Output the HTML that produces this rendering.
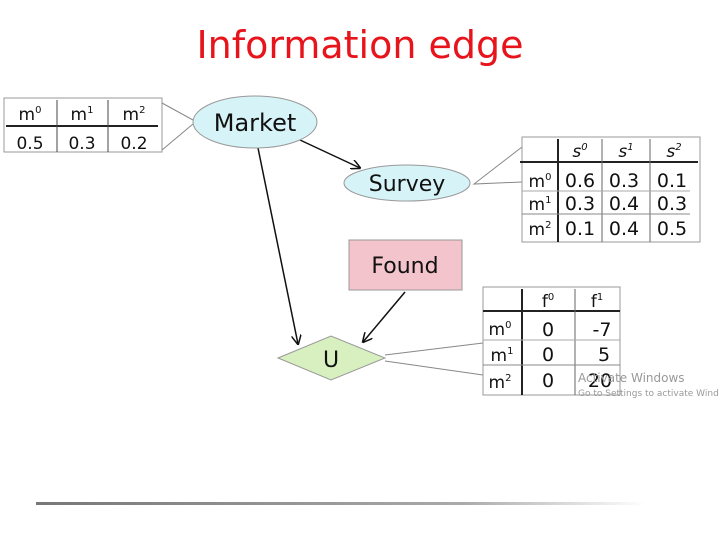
<!DOCTYPE html>
<html><head><style>
body{margin:0;background:#fff;}
svg{display:block;font-family:"DejaVu Sans","Liberation Sans",sans-serif;}
</style></head><body>
<svg width="720" height="540" viewBox="0 0 720 540" xmlns="http://www.w3.org/2000/svg">
<defs>
<linearGradient id="g" x1="0" x2="1"><stop offset="0" stop-color="#777"/><stop offset="0.7" stop-color="#aaa"/><stop offset="1" stop-color="#fff"/></linearGradient>
<marker id="a" markerWidth="10" markerHeight="10" refX="9" refY="5" orient="auto" markerUnits="userSpaceOnUse"><path d="M0,0 L10,5 L0,10" fill="none" stroke="#111" stroke-width="1.5"/></marker>
</defs>
<text x="360" y="58" text-anchor="middle" font-size="38" fill="#e8141c" font-family="'DejaVu Sans',sans-serif">Information edge</text>

<!-- table 1 -->
<rect x="4" y="98" width="158" height="54" fill="#fff" stroke="#999"/>
<path d="M162,103 L193,120 M162,150 L193,124" stroke="#888" fill="none"/>
<line x1="6" y1="126" x2="158" y2="126" stroke="#222" stroke-width="2"/>
<line x1="57" y1="100" x2="57" y2="152" stroke="#444"/>
<line x1="108" y1="100" x2="108" y2="152" stroke="#444"/>
<g font-size="17" fill="#111" text-anchor="middle">
<text x="30" y="120">m<tspan font-size="10" dy="-7">0</tspan></text>
<text x="82" y="120">m<tspan font-size="10" dy="-7">1</tspan></text>
<text x="134" y="120">m<tspan font-size="10" dy="-7">2</tspan></text>
<text x="30" y="149">0.5</text><text x="82" y="149">0.3</text><text x="134" y="149">0.2</text>
</g>

<!-- arrows -->
<line x1="300" y1="140" x2="360" y2="168" stroke="#111" stroke-width="1.5" marker-end="url(#a)"/>
<line x1="258" y1="148" x2="298" y2="344" stroke="#111" stroke-width="1.5" marker-end="url(#a)"/>
<line x1="405" y1="292" x2="363" y2="342" stroke="#111" stroke-width="1.5" marker-end="url(#a)"/>

<ellipse cx="255" cy="122" rx="62" ry="26" fill="#d6f3f7" stroke="#999"/>
<text x="255" y="131" font-size="24" text-anchor="middle" fill="#111">Market</text>
<ellipse cx="407" cy="183" rx="63" ry="18" fill="#d6f3f7" stroke="#999"/>
<text x="407" y="191" font-size="22" text-anchor="middle" fill="#111">Survey</text>
<rect x="349" y="240" width="113" height="50" fill="#f4c4cc" stroke="#999"/>
<text x="405" y="273" font-size="22" text-anchor="middle" fill="#111">Found</text>
<polygon points="278,358 331,336 385,358 331,380" fill="#d8f0c0" stroke="#999"/>
<text x="331" y="367" font-size="22" text-anchor="middle" fill="#111">U</text>

<!-- table 2 -->
<path d="M522,147 L474,184 L522,182" stroke="#888" fill="none"/>
<rect x="522" y="137" width="178" height="105" fill="#fff" stroke="#999"/>
<line x1="520" y1="162" x2="698" y2="162" stroke="#222" stroke-width="2"/>
<line x1="558" y1="139" x2="558" y2="242" stroke="#222" stroke-width="2"/>
<line x1="602" y1="139" x2="602" y2="242" stroke="#666"/>
<line x1="650" y1="139" x2="650" y2="242" stroke="#666"/>
<line x1="522" y1="191" x2="690" y2="191" stroke="#aaa"/>
<line x1="522" y1="214" x2="690" y2="214" stroke="#888"/>
<g font-size="17" fill="#111" text-anchor="middle">
<text x="580" y="157" font-style="italic">s<tspan font-size="10" dy="-7">0</tspan></text>
<text x="626" y="157" font-style="italic">s<tspan font-size="10" dy="-7">1</tspan></text>
<text x="674" y="157" font-style="italic">s<tspan font-size="10" dy="-7">2</tspan></text>
<text x="540" y="187">m<tspan font-size="10" dy="-7">0</tspan></text>
<text x="540" y="210">m<tspan font-size="10" dy="-7">1</tspan></text>
<text x="540" y="235">m<tspan font-size="10" dy="-7">2</tspan></text>
<text x="580" y="187" font-size="19">0.6</text><text x="624" y="187" font-size="19">0.3</text><text x="672" y="187" font-size="19">0.1</text>
<text x="580" y="210" font-size="19">0.3</text><text x="624" y="210" font-size="19">0.4</text><text x="672" y="210" font-size="19">0.3</text>
<text x="580" y="235" font-size="19">0.1</text><text x="624" y="235" font-size="19">0.4</text><text x="672" y="235" font-size="19">0.5</text>
</g>

<!-- table 3 -->
<path d="M483,343 L385,355 M483,375 L385,361" stroke="#888" fill="none"/>
<rect x="483" y="287" width="137" height="108" fill="#fff" stroke="#999"/>
<line x1="483" y1="311" x2="620" y2="311" stroke="#222" stroke-width="2"/>
<line x1="522" y1="289" x2="522" y2="395" stroke="#222" stroke-width="2"/>
<line x1="575" y1="289" x2="575" y2="395" stroke="#666"/>
<line x1="483" y1="340" x2="620" y2="340" stroke="#aaa"/>
<line x1="483" y1="365" x2="620" y2="365" stroke="#888"/>
<g font-size="17" fill="#111" text-anchor="middle">
<text x="548" y="307">f<tspan font-size="10" dy="-7">0</tspan></text>
<text x="597" y="307">f<tspan font-size="10" dy="-7">1</tspan></text>
<text x="500" y="335">m<tspan font-size="10" dy="-7">0</tspan></text>
<text x="502" y="361">m<tspan font-size="10" dy="-7">1</tspan></text>
<text x="500" y="388">m<tspan font-size="10" dy="-7">2</tspan></text>
<text x="548" y="336" font-size="19">0</text><text x="548" y="361" font-size="19">0</text><text x="548" y="387" font-size="19">0</text>
<text x="602" y="336" font-size="19">-7</text><text x="604" y="361" font-size="19">5</text><text x="600" y="387" font-size="19">20</text>
</g>
<text x="578" y="382" font-size="12" fill="#999">Activate Windows</text>
<text x="578" y="396" font-size="9" fill="#999">Go to Settings to activate Wind</text>

<rect x="36" y="502" width="610" height="3" fill="url(#g)"/>
</svg>
</body></html>
